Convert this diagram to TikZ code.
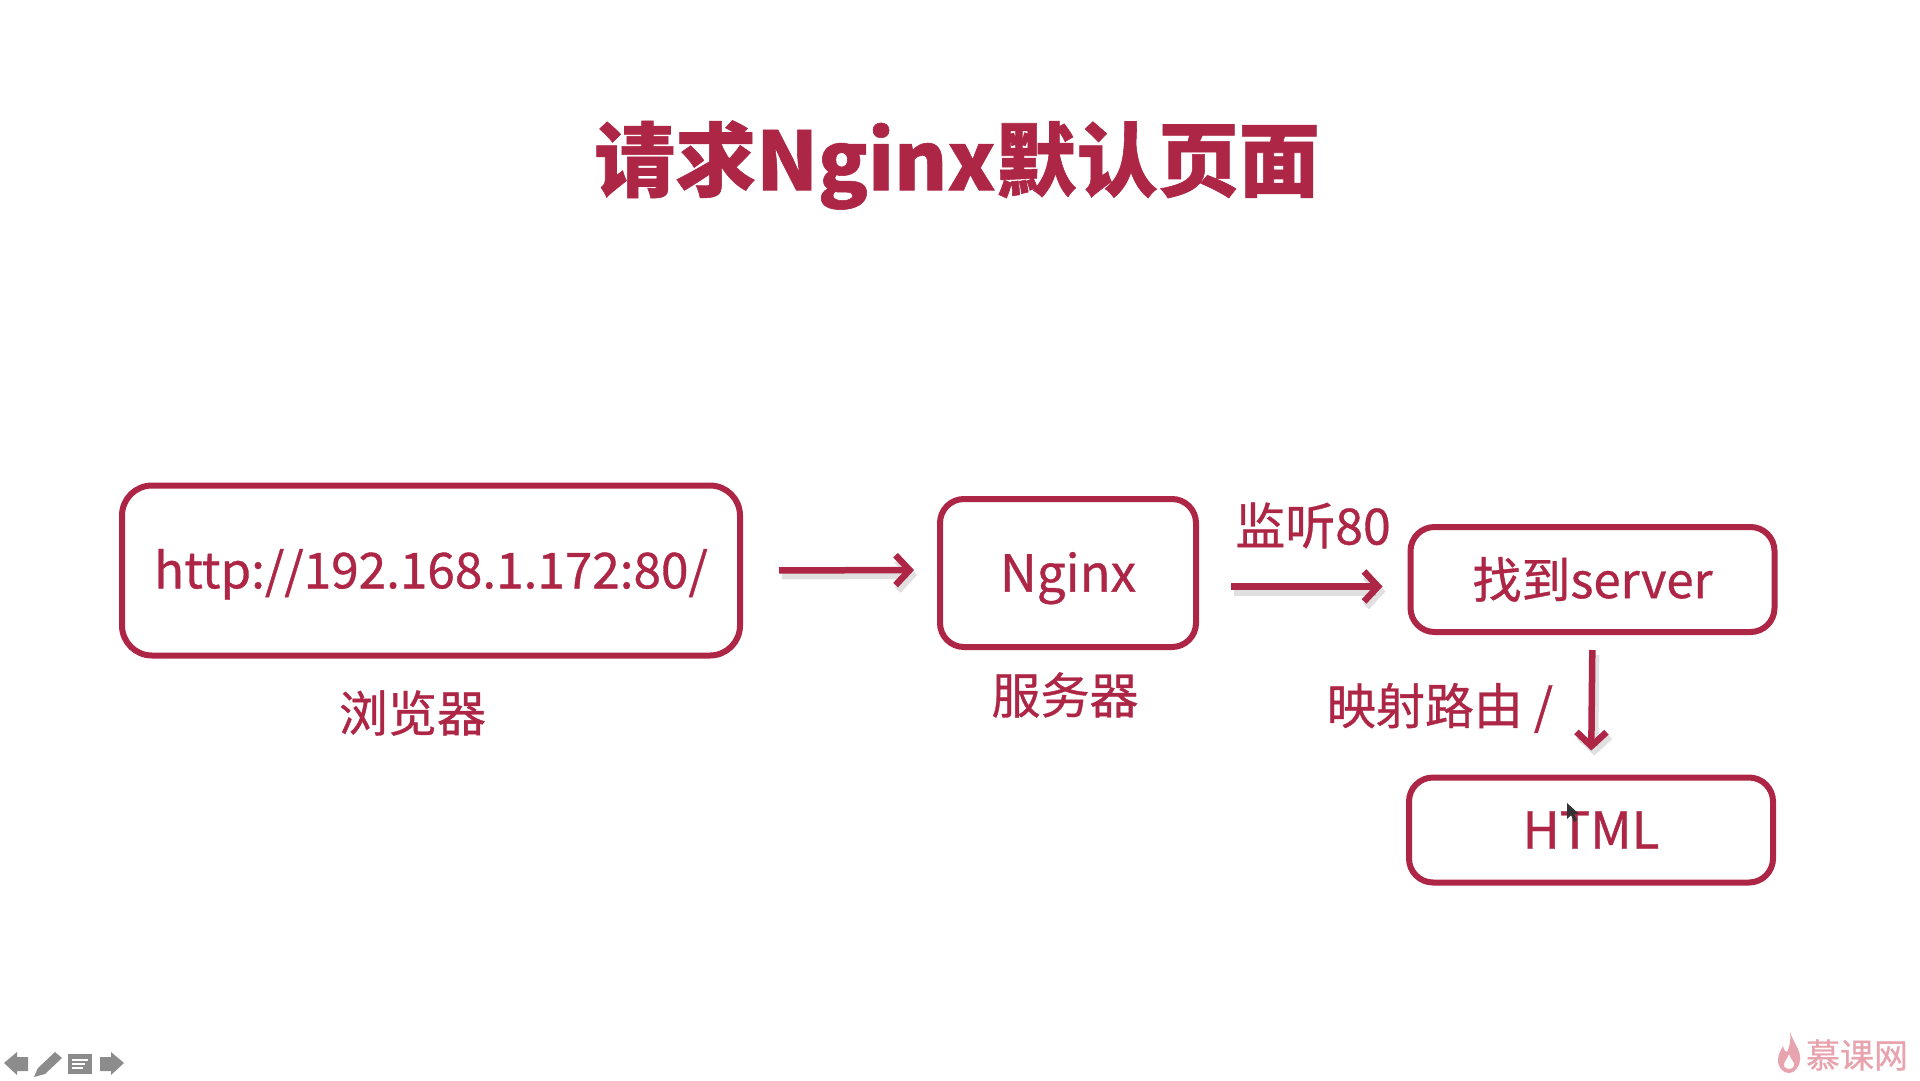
\documentclass[tikz,border=0pt]{standalone}
\usepackage{fontspec}
\usepackage{xcolor}
\usepackage{tikz}
\usetikzlibrary{arrows.meta}
\setmainfont{Noto Sans CJK SC}[FakeBold=0.7]

\definecolor{slidered}{RGB}{174,38,69}
\definecolor{iconfill}{RGB}{140,140,140}
\definecolor{logopink}{RGB}{232,164,174}

\tikzset{
    roundbox/.style={draw=slidered, line width=6pt, rounded corners=24pt, outer sep=0pt, text=slidered},
    caption/.style={text=slidered, font=\fontsize{49}{58}\selectfont},
    flowtip/.style={-{Straight Barb[length=14pt, width=30pt]}},
    flowshadow/.style={draw=black, opacity=0.12, line width=8pt, flowtip, transform canvas={xshift=3pt, yshift=-5pt}},
    flow/.style={draw=slidered, line width=6.5pt, flowtip}
}

\begin{document}
\begin{tikzpicture}[x=1pt, y=-1pt]
    \useasboundingbox[fill=white] (0, 0) rectangle (1920, 1080);

    \node[text=slidered, font=\fontsize{81}{96}\selectfont\bfseries] (title) at (957, 165) {请求Nginx默认页面};

    \node[roundbox, minimum width=618pt, minimum height=170pt, rounded corners=30pt, font=\fontsize{49.5}{58}\selectfont] (urlbox) at (431, 570.5) {\raisebox{-3.8pt}[\height][\depth]{http://192.168.1.172:80/}};
    \node[roundbox, minimum width=256pt, minimum height=148pt, font=\fontsize{51}{58}\selectfont] (nginxbox) at (1068, 573) {\raisebox{-5.2pt}[\height][\depth]{Nginx}};
    \node[roundbox, minimum width=364pt, minimum height=105pt, font=\fontsize{49}{58}\selectfont] (serverbox) at (1592.5, 579.5) {找到server};
    \node[roundbox, minimum width=364pt, minimum height=105pt, font=\fontsize{51}{58}\selectfont] (htmlbox) at (1591, 830) {HTML};

    \node[caption] (browserlabel) at (412.5, 713) {浏览器};
    \node[caption] (serverlabel) at (1065, 695) {服务器};
    \node[caption, font=\fontsize{50}{58}\selectfont] (listenlabel) at (1313, 525.5) {监听80};
    \node[caption] (routelabel) at (1440, 708) {映射路由 /};

    % shadows go first
    \draw[flowshadow, shorten <=39pt, shorten >=26pt] (urlbox.east) -- ([yshift=3pt]nginxbox.west);
    \draw[flowshadow, shorten <=35pt, shorten >=28pt] ([yshift=-13.5pt]nginxbox.east) -- ([yshift=-7pt]serverbox.west);
    \draw[flowshadow, shorten <=18pt, shorten >=27pt] (serverbox.south) -- (htmlbox.north);

    \draw[flow, shorten <=39pt, shorten >=26pt] (urlbox.east) -- ([yshift=3pt]nginxbox.west);
    \draw[flow, shorten <=35pt, shorten >=28pt] ([yshift=-13.5pt]nginxbox.east) -- ([yshift=-7pt]serverbox.west);
    \draw[flow, shorten <=18pt, shorten >=27pt] (serverbox.south) -- (htmlbox.north);

    % mouse pointer
    \fill[black!80] (1567, 803) -- (1567, 819) -- (1571, 815) -- (1574, 822) -- (1577, 820) -- (1574, 814) -- (1579, 814) -- cycle;

    % slide controls
    \fill[iconfill] (4, 1063) -- (17, 1052) -- (17, 1057) -- (28, 1057) -- (28, 1071) -- (17, 1071) -- (17, 1075) -- cycle;
    \fill[iconfill] (34, 1077) -- (38, 1068) -- (55, 1052) -- (62, 1058) -- (45, 1074) -- cycle;
    \fill[iconfill] (68, 1054) rectangle (92, 1074);
    \draw[white, line width=1.2pt] (72, 1060) -- (88, 1060) (72, 1064) -- (85, 1064) (72, 1068) -- (83, 1068);
    \fill[iconfill] (124, 1063) -- (111, 1052) -- (111, 1057) -- (100, 1057) -- (100, 1071) -- (111, 1071) -- (111, 1075) -- cycle;

    % logo
    \fill[logopink, even odd rule] (1790, 1032) .. controls (1794, 1044) and (1801, 1050) .. (1800, 1060) .. controls (1799, 1068) and (1794, 1073) .. (1789, 1073) .. controls (1783, 1073) and (1778, 1068) .. (1778, 1060) .. controls (1778, 1054) and (1781, 1050) .. (1783, 1046) .. controls (1784, 1050) and (1785, 1052) .. (1787, 1052) .. controls (1790, 1046) and (1791, 1040) .. (1790, 1032) -- cycle
        (1789, 1054) .. controls (1791, 1060) and (1795, 1062) .. (1794, 1066) .. controls (1793, 1070) and (1785, 1070) .. (1784, 1066) .. controls (1783, 1062) and (1787, 1060) .. (1789, 1054) -- cycle;
    \node[text=logopink, font=\fontsize{34}{40}\selectfont] (logotext) at (1857, 1055) {慕课网};
\end{tikzpicture}
\end{document}
